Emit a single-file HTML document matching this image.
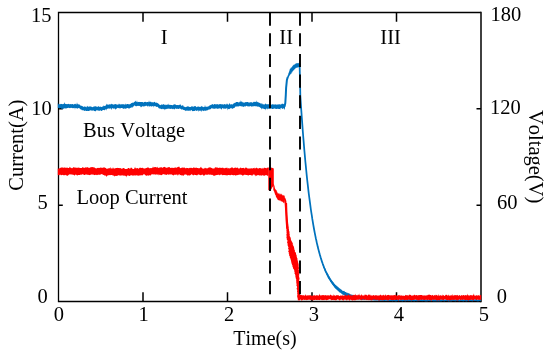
<!DOCTYPE html>
<html><head><meta charset="utf-8"><title>Current and Voltage</title>
<style>html,body{margin:0;padding:0;background:#fff;}body{width:550px;height:354px;overflow:hidden;}svg{display:block;}</style>
</head><body>
<svg width="550" height="354" viewBox="0 0 550 354">
<rect width="550" height="354" fill="#fff"/>
<g fill="none" stroke="#000" stroke-width="1.3">
<path d="M58.5 12.5 H481.0 M58.5 301.5 H481.0 M58.5 11.85 V302.15"/>
<path d="M481.0 11.85 V302.15" stroke-width="1.6" stroke="#111"/>
<path d="M143.00 301.5 V292.2 M143.00 12.5 V21.8 M227.50 301.5 V292.2 M227.50 12.5 V21.8 M312.00 301.5 V292.2 M312.00 12.5 V21.8 M396.50 301.5 V292.2 M396.50 12.5 V21.8 M58.5 205.17 H62.8 M481.0 205.17 H476.5 M58.5 108.83 H62.8 M481.0 108.83 H476.5" stroke-width="1.5"/>
</g>
<polygon fill="#0072BD" points="57.80,103.18 58.20,103.60 58.60,104.39 59.00,104.23 59.40,104.21 59.80,104.22 60.20,104.21 60.60,103.93 61.00,103.81 61.40,104.03 61.80,104.01 62.20,104.06 62.60,104.24 63.00,104.18 63.40,103.98 63.80,103.79 64.20,103.78 64.60,102.05 65.00,103.60 65.40,103.91 65.80,103.91 66.20,104.16 66.60,104.09 67.00,104.07 67.40,104.19 67.80,103.97 68.20,103.83 68.60,103.88 69.00,104.05 69.40,104.35 69.80,104.37 70.20,104.15 70.60,104.08 71.00,104.04 71.40,104.16 71.80,104.27 72.20,103.89 72.60,104.12 73.00,104.21 73.40,104.56 73.80,104.50 74.20,104.28 74.60,103.92 75.00,103.74 75.40,103.81 75.80,104.26 76.20,104.53 76.60,104.20 77.00,102.33 77.40,103.70 77.80,104.18 78.20,104.39 78.60,104.37 79.00,104.31 79.40,104.38 79.80,104.85 80.20,105.31 80.60,105.59 81.00,105.94 81.40,105.77 81.80,105.83 82.20,105.99 82.60,106.25 83.00,106.59 83.40,106.83 83.80,106.96 84.20,106.60 84.60,106.62 85.00,106.52 85.40,106.87 85.80,106.84 86.20,107.24 86.60,107.18 87.00,105.42 87.40,106.62 87.80,106.34 88.20,106.60 88.60,106.69 89.00,106.99 89.40,106.60 89.80,106.29 90.20,106.25 90.60,106.52 91.00,106.84 91.40,106.63 91.80,106.83 92.20,106.96 92.60,107.13 93.00,107.03 93.40,106.63 93.80,106.46 94.20,106.31 94.60,106.40 95.00,106.43 95.40,106.31 95.80,106.18 96.20,106.45 96.60,106.53 97.00,106.92 97.40,106.78 97.80,106.69 98.20,106.32 98.60,106.16 99.00,106.54 99.40,106.81 99.80,107.11 100.20,106.62 100.60,106.73 101.00,106.69 101.40,107.01 101.80,107.05 102.20,106.74 102.60,106.55 103.00,106.32 103.40,106.32 103.80,105.26 104.20,106.01 104.60,105.96 105.00,105.79 105.40,105.86 105.80,105.51 106.20,105.03 106.60,103.40 107.00,104.51 107.40,104.47 107.80,104.52 108.20,104.68 108.60,104.66 109.00,104.27 109.40,104.37 109.80,104.53 110.20,104.70 110.60,104.27 111.00,103.86 111.40,103.79 111.80,104.24 112.20,104.29 112.60,104.30 113.00,104.26 113.40,104.44 113.80,104.76 114.20,104.42 114.60,104.30 115.00,103.91 115.40,103.94 115.80,104.16 116.20,104.17 116.60,104.43 117.00,104.49 117.40,104.70 117.80,104.57 118.20,104.50 118.60,104.39 119.00,103.32 119.40,104.36 119.80,104.35 120.20,104.47 120.60,104.22 121.00,104.39 121.40,104.17 121.80,104.33 122.20,104.20 122.60,104.26 123.00,104.21 123.40,104.36 123.80,104.20 124.20,104.41 124.60,104.38 125.00,104.60 125.40,103.29 125.80,104.72 126.20,104.59 126.60,104.21 127.00,103.97 127.40,103.92 127.80,103.93 128.20,104.10 128.60,104.23 129.00,104.44 129.40,104.21 129.80,104.20 130.20,104.10 130.60,103.85 131.00,103.50 131.40,103.01 131.80,102.98 132.20,102.74 132.60,102.70 133.00,102.50 133.40,102.67 133.80,102.43 134.20,102.11 134.60,101.64 135.00,101.52 135.40,100.38 135.80,101.59 136.20,101.94 136.60,101.75 137.00,100.28 137.40,102.01 137.80,102.14 138.20,102.10 138.60,101.93 139.00,101.81 139.40,101.97 139.80,101.88 140.20,102.10 140.60,101.90 141.00,101.96 141.40,102.10 141.80,102.11 142.20,101.93 142.60,101.91 143.00,102.16 143.40,102.56 143.80,102.42 144.20,101.93 144.60,101.94 145.00,101.67 145.40,101.89 145.80,101.86 146.20,102.15 146.60,102.31 147.00,102.01 147.40,101.95 147.80,101.91 148.20,102.14 148.60,101.98 149.00,100.30 149.40,101.64 149.80,101.88 150.20,101.89 150.60,101.62 151.00,101.79 151.40,102.08 151.80,102.38 152.20,102.17 152.60,102.21 153.00,102.37 153.40,102.51 153.80,102.36 154.20,102.01 154.60,101.81 155.00,101.99 155.40,102.57 155.80,102.89 156.20,102.69 156.60,102.48 157.00,102.76 157.40,102.99 157.80,103.21 158.20,103.42 158.60,103.73 159.00,104.24 159.40,104.60 159.80,104.92 160.20,105.18 160.60,104.92 161.00,104.80 161.40,104.38 161.80,104.49 162.20,104.84 162.60,104.85 163.00,104.13 163.40,104.20 163.80,104.36 164.20,104.46 164.60,104.76 165.00,104.97 165.40,105.16 165.80,104.17 166.20,104.91 166.60,104.71 167.00,104.82 167.40,104.76 167.80,104.62 168.20,103.60 168.60,104.77 169.00,105.18 169.40,104.79 169.80,104.79 170.20,104.70 170.60,105.09 171.00,105.04 171.40,105.00 171.80,105.02 172.20,105.31 172.60,105.31 173.00,105.08 173.40,104.83 173.80,104.58 174.20,104.41 174.60,104.20 175.00,104.25 175.40,104.47 175.80,104.68 176.20,104.88 176.60,104.92 177.00,105.16 177.40,104.96 177.80,105.04 178.20,105.05 178.60,105.21 179.00,104.98 179.40,104.77 179.80,104.82 180.20,104.92 180.60,103.65 181.00,105.53 181.40,105.70 181.80,105.66 182.20,105.38 182.60,105.61 183.00,104.78 183.40,106.20 183.80,106.54 184.20,106.77 184.60,106.81 185.00,106.94 185.40,107.18 185.80,107.10 186.20,106.96 186.60,106.74 187.00,106.49 187.40,105.91 187.80,106.66 188.20,106.82 188.60,105.95 189.00,106.90 189.40,107.03 189.80,106.84 190.20,107.01 190.60,106.89 191.00,106.77 191.40,106.41 191.80,106.21 192.20,106.35 192.60,106.39 193.00,106.65 193.40,106.72 193.80,106.61 194.20,106.45 194.60,106.09 195.00,106.12 195.40,106.03 195.80,106.45 196.20,106.85 196.60,107.21 197.00,107.07 197.40,106.73 197.80,106.61 198.20,106.56 198.60,106.52 199.00,106.71 199.40,106.63 199.80,106.99 200.20,106.90 200.60,106.87 201.00,106.55 201.40,106.47 201.80,105.77 202.20,106.62 202.60,106.68 203.00,106.82 203.40,107.11 203.80,107.24 204.20,106.84 204.60,106.91 205.00,104.67 205.40,106.73 205.80,106.63 206.20,106.83 206.60,106.78 207.00,106.75 207.40,106.81 207.80,106.60 208.20,106.60 208.60,106.36 209.00,105.92 209.40,105.62 209.80,105.42 210.20,105.36 210.60,104.88 211.00,104.69 211.40,104.67 211.80,104.58 212.20,104.24 212.60,104.12 213.00,104.39 213.40,104.70 213.80,104.62 214.20,104.36 214.60,104.00 215.00,103.99 215.40,104.13 215.80,104.51 216.20,104.46 216.60,104.32 217.00,104.10 217.40,104.20 217.80,104.36 218.20,104.48 218.60,104.53 219.00,104.48 219.40,104.30 219.80,104.11 220.20,103.93 220.60,104.09 221.00,104.38 221.40,104.34 221.80,104.33 222.20,104.12 222.60,104.54 223.00,104.51 223.40,104.65 223.80,104.29 224.20,104.08 224.60,104.26 225.00,104.36 225.40,104.48 225.80,104.48 226.20,104.37 226.60,104.41 227.00,102.95 227.40,104.33 227.80,104.34 228.20,104.67 228.60,104.44 229.00,104.39 229.40,103.15 229.80,103.17 230.20,104.51 230.60,104.58 231.00,104.30 231.40,104.32 231.80,104.27 232.20,104.49 232.60,104.41 233.00,103.99 233.40,103.78 233.80,103.28 234.20,103.28 234.60,102.76 235.00,102.93 235.40,102.57 235.80,102.49 236.20,102.10 236.60,102.04 237.00,101.88 237.40,101.94 237.80,101.98 238.20,102.23 238.60,102.44 239.00,102.42 239.40,102.30 239.80,101.85 240.20,100.30 240.60,101.88 241.00,101.84 241.40,101.52 241.80,101.45 242.20,101.87 242.60,102.24 243.00,102.61 243.40,102.51 243.80,102.53 244.20,102.57 244.60,102.74 245.00,102.33 245.40,102.23 245.80,101.92 246.20,102.16 246.60,101.97 247.00,101.88 247.40,101.91 247.80,102.02 248.20,102.37 248.60,102.42 249.00,102.58 249.40,102.48 249.80,102.46 250.20,102.28 250.60,102.27 251.00,102.26 251.40,102.14 251.80,102.30 252.20,102.46 252.60,102.85 253.00,102.42 253.40,102.10 253.80,101.76 254.20,101.72 254.60,101.93 255.00,101.83 255.40,101.67 255.80,102.04 256.20,102.16 256.60,100.21 257.00,102.02 257.40,102.30 257.80,101.52 258.20,103.03 258.60,101.77 259.00,102.71 259.40,102.75 259.80,103.03 260.20,103.21 260.60,103.52 261.00,103.61 261.40,103.11 261.80,104.29 262.20,104.61 262.60,103.22 263.00,104.27 263.40,104.20 263.80,104.48 264.20,104.51 264.60,104.38 265.00,104.06 265.40,103.25 265.80,104.10 266.20,104.03 266.60,104.45 267.00,104.26 267.40,104.44 267.80,104.07 268.20,104.36 268.60,104.27 269.00,104.28 269.40,104.09 269.80,104.09 270.20,104.03 270.60,104.34 271.00,104.60 271.40,104.81 271.80,104.38 272.20,104.08 272.60,104.20 273.00,104.63 273.40,103.99 273.80,104.66 274.20,104.48 274.60,104.40 275.00,104.50 275.40,104.29 275.80,104.46 276.20,104.54 276.60,104.81 277.00,104.49 277.40,104.46 277.80,104.49 278.20,104.50 278.60,104.40 279.00,104.12 279.40,104.56 279.80,104.29 280.20,104.60 280.60,104.53 281.00,104.60 281.40,104.22 281.80,103.83 282.20,103.82 282.60,103.86 283.00,103.85 283.40,103.95 283.80,104.34 284.20,104.41 284.60,104.49 285.00,104.40 285.00,110.36 284.60,109.37 284.20,108.47 283.80,108.17 283.40,108.45 283.00,108.62 282.60,108.99 282.20,108.74 281.80,108.53 281.40,108.02 281.00,107.87 280.60,108.28 280.20,109.69 279.80,108.97 279.40,109.06 279.00,109.01 278.60,108.91 278.20,108.81 277.80,108.64 277.40,108.74 277.00,108.80 276.60,108.91 276.20,108.98 275.80,108.90 275.40,108.64 275.00,108.60 274.60,108.50 274.20,108.61 273.80,108.73 273.40,108.70 273.00,109.05 272.60,108.93 272.20,108.99 271.80,108.71 271.40,108.44 271.00,108.45 270.60,108.49 270.20,108.50 269.80,108.67 269.40,108.60 269.00,109.00 268.60,108.59 268.20,108.79 267.80,108.53 267.40,109.76 267.00,108.42 266.60,108.49 266.20,108.66 265.80,110.48 265.40,109.06 265.00,109.08 264.60,109.02 264.20,109.13 263.80,108.83 263.40,108.69 263.00,108.59 262.60,108.60 262.20,108.38 261.80,108.30 261.40,109.63 261.00,108.01 260.60,107.92 260.20,107.62 259.80,107.37 259.40,106.92 259.00,106.76 258.60,106.70 258.20,106.53 257.80,106.67 257.40,106.40 257.00,106.56 256.60,106.28 256.20,106.37 255.80,106.30 255.40,106.19 255.00,106.23 254.60,106.07 254.20,106.30 253.80,106.16 253.40,106.19 253.00,106.39 252.60,106.51 252.20,106.21 251.80,106.19 251.40,106.89 251.00,106.33 250.60,106.04 250.20,106.37 249.80,106.14 249.40,106.42 249.00,106.59 248.60,106.46 248.20,106.26 247.80,106.38 247.40,106.13 247.00,106.10 246.60,105.82 246.20,106.00 245.80,106.27 245.40,106.45 245.00,106.49 244.60,106.25 244.20,106.43 243.80,106.71 243.40,106.95 243.00,106.57 242.60,106.39 242.20,106.38 241.80,106.23 241.40,106.42 241.00,106.20 240.60,106.24 240.20,105.88 239.80,105.79 239.40,106.17 239.00,106.25 238.60,106.11 238.20,107.04 237.80,106.25 237.40,106.43 237.00,106.62 236.60,106.43 236.20,106.56 235.80,106.44 235.40,106.62 235.00,107.13 234.60,107.65 234.20,107.95 233.80,108.12 233.40,108.17 233.00,108.60 232.60,108.82 232.20,108.80 231.80,108.61 231.40,108.17 231.00,108.07 230.60,108.35 230.20,108.57 229.80,108.83 229.40,109.32 229.00,108.82 228.60,109.00 228.20,108.99 227.80,110.60 227.40,108.62 227.00,108.26 226.60,108.15 226.20,108.55 225.80,108.85 225.40,108.74 225.00,108.45 224.60,108.62 224.20,108.63 223.80,109.31 223.40,108.37 223.00,108.29 222.60,107.99 222.20,108.20 221.80,109.93 221.40,109.00 221.00,108.75 220.60,108.70 220.20,108.28 219.80,108.50 219.40,108.30 219.00,108.61 218.60,108.59 218.20,108.63 217.80,108.59 217.40,108.88 217.00,108.70 216.60,108.55 216.20,108.17 215.80,108.59 215.40,108.47 215.00,108.71 214.60,108.54 214.20,108.92 213.80,108.63 213.40,108.75 213.00,108.16 212.60,108.49 212.20,108.50 211.80,108.33 211.40,108.27 211.00,108.81 210.60,109.30 210.20,109.34 209.80,109.36 209.40,109.41 209.00,109.66 208.60,109.57 208.20,109.77 207.80,110.13 207.40,110.35 207.00,110.51 206.60,110.33 206.20,110.66 205.80,110.68 205.40,110.78 205.00,110.70 204.60,110.46 204.20,110.77 203.80,110.77 203.40,111.17 203.00,110.69 202.60,110.59 202.20,110.47 201.80,110.60 201.40,112.24 201.00,110.54 200.60,110.57 200.20,111.29 199.80,110.79 199.40,110.66 199.00,110.43 198.60,110.45 198.20,112.02 197.80,110.35 197.40,110.47 197.00,110.76 196.60,110.90 196.20,110.84 195.80,110.50 195.40,110.37 195.00,110.65 194.60,111.04 194.20,110.97 193.80,110.97 193.40,110.98 193.00,111.13 192.60,111.01 192.20,111.34 191.80,110.41 191.40,110.09 191.00,110.05 190.60,110.39 190.20,111.26 189.80,110.76 189.40,110.56 189.00,110.83 188.60,110.75 188.20,110.80 187.80,110.51 187.40,110.73 187.00,110.65 186.60,110.66 186.20,110.55 185.80,110.59 185.40,111.33 185.00,110.51 184.60,110.20 184.20,109.90 183.80,110.03 183.40,109.90 183.00,109.51 182.60,109.37 182.20,109.56 181.80,109.73 181.40,109.32 181.00,109.21 180.60,108.74 180.20,108.71 179.80,108.45 179.40,108.54 179.00,108.82 178.60,108.97 178.20,108.92 177.80,108.65 177.40,108.75 177.00,108.83 176.60,108.98 176.20,108.73 175.80,108.61 175.40,108.44 175.00,108.68 174.60,109.19 174.20,109.43 173.80,109.21 173.40,108.80 173.00,108.84 172.60,109.03 172.20,109.21 171.80,108.87 171.40,108.72 171.00,108.59 170.60,109.03 170.20,108.94 169.80,108.87 169.40,108.68 169.00,108.80 168.60,108.80 168.20,108.50 167.80,108.75 167.40,108.69 167.00,109.06 166.60,108.86 166.20,109.23 165.80,108.89 165.40,109.05 165.00,110.56 164.60,109.24 164.20,109.18 163.80,109.36 163.40,108.98 163.00,108.84 162.60,108.83 162.20,109.19 161.80,109.25 161.40,109.08 161.00,108.97 160.60,108.81 160.20,108.62 159.80,108.49 159.40,108.49 159.00,108.40 158.60,107.97 158.20,107.38 157.80,107.00 157.40,106.79 157.00,106.76 156.60,106.97 156.20,106.84 155.80,106.41 155.40,106.14 155.00,106.11 154.60,106.18 154.20,106.13 153.80,105.80 153.40,107.80 153.00,105.85 152.60,106.23 152.20,106.19 151.80,106.15 151.40,106.89 151.00,105.93 150.60,106.37 150.20,106.21 149.80,106.38 149.40,105.94 149.00,107.42 148.60,105.61 148.20,106.04 147.80,106.01 147.40,107.06 147.00,105.69 146.60,105.71 146.20,105.75 145.80,105.74 145.40,106.14 145.00,105.91 144.60,106.39 144.20,106.36 143.80,106.56 143.40,106.58 143.00,106.22 142.60,106.27 142.20,106.14 141.80,107.07 141.40,106.44 141.00,107.73 140.60,105.68 140.20,107.26 139.80,105.64 139.40,106.01 139.00,105.88 138.60,105.92 138.20,105.71 137.80,105.79 137.40,106.02 137.00,106.10 136.60,106.19 136.20,106.21 135.80,106.28 135.40,106.06 135.00,105.81 134.60,105.52 134.20,105.60 133.80,105.97 133.40,106.67 133.00,106.84 132.60,107.07 132.20,107.97 131.80,107.24 131.40,107.40 131.00,107.67 130.60,107.78 130.20,108.09 129.80,108.33 129.40,108.60 129.00,108.40 128.60,108.80 128.20,107.93 127.80,108.09 127.40,108.11 127.00,108.18 126.60,108.31 126.20,108.59 125.80,108.92 125.40,108.62 125.00,108.47 124.60,108.42 124.20,108.53 123.80,108.84 123.40,108.64 123.00,108.64 122.60,108.22 122.20,108.02 121.80,107.98 121.40,108.04 121.00,108.05 120.60,108.23 120.20,108.41 119.80,108.48 119.40,108.31 119.00,108.12 118.60,108.14 118.20,107.96 117.80,107.86 117.40,108.03 117.00,108.18 116.60,108.71 116.20,108.76 115.80,108.88 115.40,110.00 115.00,108.52 114.60,108.58 114.20,108.53 113.80,109.13 113.40,108.13 113.00,108.26 112.60,108.20 112.20,108.37 111.80,108.41 111.40,110.16 111.00,108.64 110.60,108.29 110.20,108.45 109.80,108.39 109.40,108.74 109.00,108.59 108.60,108.42 108.20,108.41 107.80,108.57 107.40,108.98 107.00,108.79 106.60,110.64 106.20,108.88 105.80,109.33 105.40,109.62 105.00,110.07 104.60,110.19 104.20,110.16 103.80,110.08 103.40,110.05 103.00,109.97 102.60,110.13 102.20,110.45 101.80,110.89 101.40,110.89 101.00,110.68 100.60,110.32 100.20,110.58 99.80,110.75 99.40,110.76 99.00,110.70 98.60,110.51 98.20,110.74 97.80,110.45 97.40,110.49 97.00,110.09 96.60,110.30 96.20,110.66 95.80,111.19 95.40,111.26 95.00,111.30 94.60,110.99 94.20,110.97 93.80,110.55 93.40,110.53 93.00,110.45 92.60,110.54 92.20,110.78 91.80,110.71 91.40,110.62 91.00,110.32 90.60,110.39 90.20,110.35 89.80,110.52 89.40,110.74 89.00,111.12 88.60,111.06 88.20,110.97 87.80,110.87 87.40,111.01 87.00,111.09 86.60,111.04 86.20,110.90 85.80,110.54 85.40,110.71 85.00,110.79 84.60,110.94 84.20,110.63 83.80,110.49 83.40,110.35 83.00,110.22 82.60,110.23 82.20,110.15 81.80,110.18 81.40,109.61 81.00,109.60 80.60,109.23 80.20,109.27 79.80,108.81 79.40,108.31 79.00,108.04 78.60,108.12 78.20,108.32 77.80,108.47 77.40,108.43 77.00,108.67 76.60,108.30 76.20,107.88 75.80,107.90 75.40,108.05 75.00,109.72 74.60,107.83 74.20,108.01 73.80,108.15 73.40,107.98 73.00,108.14 72.60,107.98 72.20,108.18 71.80,107.81 71.40,108.11 71.00,107.84 70.60,108.22 70.20,107.86 69.80,108.30 69.40,107.90 69.00,107.98 68.60,107.64 68.20,107.76 67.80,108.12 67.40,108.04 67.00,108.15 66.60,108.15 66.20,108.60 65.80,108.69 65.40,108.23 65.00,108.17 64.60,108.27 64.20,108.56 63.80,108.70 63.40,108.40 63.00,109.60 62.60,108.46 62.20,108.76 61.80,108.49 61.40,109.40 61.00,108.03 60.60,107.97 60.20,108.32 59.80,108.39 59.40,108.31 59.00,108.30 58.60,107.86 58.20,107.97 57.80,107.90"/>
<polygon fill="#0072BD" points="287.30,77.45 287.55,76.46 287.80,75.11 288.05,75.01 288.30,74.08 288.55,72.75 288.80,72.78 289.05,71.85 289.30,71.23 289.55,70.29 289.80,69.30 290.05,68.49 290.30,68.85 290.55,68.78 290.80,67.85 291.05,67.43 291.30,67.96 291.55,67.14 291.80,66.89 292.05,66.65 292.30,66.31 292.55,66.34 292.80,65.52 293.05,65.86 293.30,65.01 293.55,64.80 293.80,64.71 294.05,64.91 294.30,64.21 294.55,64.67 294.80,64.22 295.05,64.01 295.30,64.13 295.55,63.17 295.80,63.70 296.05,63.26 296.30,63.60 296.55,63.40 296.80,62.89 297.05,63.01 297.30,63.27 297.55,63.00 297.80,63.41 298.05,62.95 298.30,62.72 298.55,63.49 298.80,63.21 299.05,63.22 299.30,63.35 299.55,62.58 299.55,67.22 299.30,67.37 299.05,67.54 298.80,67.55 298.55,67.12 298.30,67.32 298.05,67.05 297.80,67.45 297.55,67.99 297.30,67.32 297.05,67.42 296.80,67.95 296.55,67.72 296.30,67.50 296.05,67.97 295.80,67.80 295.55,68.48 295.30,68.43 295.05,68.98 294.80,69.13 294.55,69.23 294.30,69.28 294.05,70.29 293.80,69.97 293.55,70.30 293.30,70.77 293.05,71.10 292.80,70.91 292.55,71.42 292.30,72.18 292.05,72.42 291.80,72.22 291.55,73.05 291.30,73.65 291.05,74.03 290.80,73.66 290.55,74.27 290.30,74.59 290.05,74.90 289.80,75.59 289.55,75.51 289.30,75.85 289.05,76.78 288.80,77.04 288.55,77.30 288.30,77.61 288.05,78.43 287.80,78.37 287.55,78.96 287.30,79.86"/>
<polygon fill="#0072BD" points="318.00,246.83 318.40,248.43 318.80,249.92 319.20,251.10 319.60,253.01 320.00,253.91 320.40,255.63 320.80,256.48 321.20,257.73 321.60,259.38 322.00,260.48 322.40,261.29 322.80,262.39 323.20,264.09 323.60,264.79 324.00,266.11 324.40,266.47 324.80,267.87 325.20,268.72 325.60,269.61 326.00,270.13 326.40,271.27 326.80,271.97 327.20,272.39 327.60,273.48 328.00,273.82 328.40,274.56 328.80,275.64 329.20,276.50 329.60,276.61 330.00,277.56 330.40,278.35 330.80,279.19 331.20,279.46 331.60,280.38 332.00,280.46 332.40,281.18 332.80,281.78 333.20,282.35 333.60,282.41 334.00,282.77 334.40,283.94 334.80,283.97 335.20,284.76 335.60,285.22 336.00,284.86 336.40,285.79 336.80,286.00 337.20,286.07 337.60,286.64 338.00,287.22 338.40,287.28 338.80,287.54 339.20,287.97 339.60,288.48 340.00,288.48 340.40,289.08 340.80,289.37 341.20,289.70 341.60,289.41 342.00,290.35 342.40,290.65 342.80,290.69 343.20,291.06 343.60,291.09 344.00,290.85 344.40,291.05 344.80,291.83 345.20,291.99 345.60,292.12 346.00,291.89 346.40,292.64 346.80,292.44 347.20,292.73 347.60,292.73 348.00,293.39 348.40,293.05 348.80,293.16 349.20,293.81 349.60,293.54 350.00,293.86 350.40,294.42 350.80,294.40 351.20,294.70 351.60,294.32 352.00,295.00 352.40,294.61 352.80,295.23 353.20,294.86 353.60,295.07 354.00,295.23 354.40,295.72 354.80,295.48 355.20,295.67 355.60,296.00 356.00,295.59 356.40,295.72 356.80,296.07 357.20,295.96 357.60,296.52 358.00,296.74 358.40,296.71 358.80,296.63 359.20,296.46 359.60,296.60 360.00,297.17 360.40,296.80 360.80,296.84 361.20,297.17 361.60,297.32 362.00,297.43 362.40,297.73 362.80,297.76 363.20,297.64 363.60,297.72 364.00,297.78 364.40,297.92 364.80,297.67 364.80,299.53 364.40,299.89 364.00,299.64 363.60,299.67 363.20,299.50 362.80,300.07 362.40,299.91 362.00,299.80 361.60,299.67 361.20,299.23 360.80,299.65 360.40,299.69 360.00,299.13 359.60,299.67 359.20,299.01 358.80,299.50 358.40,299.12 358.00,299.52 357.60,299.05 357.20,299.41 356.80,299.32 356.40,299.22 356.00,298.81 355.60,299.13 355.20,298.49 354.80,298.60 354.40,298.76 354.00,298.40 353.60,298.76 353.20,298.54 352.80,298.55 352.40,298.16 352.00,297.74 351.60,298.23 351.20,297.92 350.80,297.60 350.40,297.86 350.00,297.50 349.60,297.33 349.20,297.32 348.80,297.08 348.40,297.24 348.00,296.90 347.60,297.07 347.20,296.65 346.80,296.44 346.40,296.14 346.00,296.00 345.60,296.13 345.20,296.16 344.80,295.44 344.40,295.61 344.00,295.55 343.60,295.06 343.20,294.74 342.80,294.72 342.40,294.40 342.00,294.00 341.60,293.40 341.20,293.68 340.80,292.77 340.40,292.84 340.00,292.85 339.60,292.46 339.20,292.04 338.80,291.75 338.40,291.37 338.00,290.84 337.60,290.36 337.20,290.41 336.80,290.01 336.40,289.13 336.00,289.15 335.60,288.52 335.20,288.45 334.80,288.12 334.40,287.42 334.00,286.57 333.60,286.51 333.20,285.80 332.80,285.17 332.40,284.82 332.00,284.07 331.60,283.36 331.20,283.16 330.80,282.28 330.40,281.99 330.00,281.22 329.60,280.22 329.20,279.58 328.80,279.24 328.40,278.51 328.00,278.13 327.60,276.94 327.20,276.07 326.80,274.88 326.40,274.41 326.00,273.45 325.60,272.29 325.20,271.72 324.80,270.94 324.40,269.55 324.00,268.27 323.60,267.77 323.20,266.58 322.80,265.28 322.40,263.85 322.00,263.24 321.60,261.71 321.20,260.70 320.80,258.97 320.40,257.53 320.00,256.16 319.60,254.96 319.20,253.70 318.80,251.73 318.40,250.13 318.00,248.44"/>
<polyline fill="none" stroke="#0072BD" stroke-width="2.0" stroke-linejoin="round" stroke-linecap="round" points="284.60,106.30 285.30,103.00 285.80,95.00 286.10,88.00 286.90,80.00 287.60,77.50"/>
<polyline fill="none" stroke="#0072BD" stroke-width="1.75" stroke-linejoin="round" stroke-linecap="round" points="299.60,64.20 300.00,80.00 300.30,95.00 300.30,95.54 300.80,103.00 301.30,110.65 301.80,117.67 302.30,124.42 302.80,131.26 303.30,137.48 303.80,143.51 304.30,149.73 304.80,155.13 305.30,160.97 305.80,165.87 306.30,171.00 306.80,176.11 307.30,180.82 307.80,185.12 308.30,189.57 308.80,193.91 309.30,197.61 309.80,201.47 310.30,205.11 310.80,208.99 311.30,212.44 311.80,215.47 312.30,218.96 312.80,221.82 313.30,224.89 313.80,227.76 314.30,230.51 314.80,233.13 315.30,235.59 315.80,238.18 316.30,240.28 316.80,242.87 317.30,244.80 317.80,247.09 318.30,249.02 318.80,250.88 319.30,252.75 319.80,254.57 320.30,256.24 320.80,257.98 321.30,259.53 321.80,261.25 322.30,262.44 322.80,264.11 323.30,265.31 323.80,266.85 324.30,268.11 324.80,268.95 325.30,270.55 325.80,271.62 326.30,272.63 326.80,273.45 327.30,274.78 327.80,275.63 328.30,276.38 328.80,277.48 329.30,278.08 329.80,279.20 330.30,279.75 330.80,280.58 331.30,281.18 331.80,282.06 332.30,282.87 332.80,283.55 333.30,284.07 333.80,284.61 334.30,285.10 334.80,285.80 335.30,286.56 335.80,287.16 336.30,287.65 336.80,287.72 337.30,288.21 337.80,288.78 338.30,289.31 338.80,289.47 339.30,289.89 339.80,290.64 340.30,291.10 340.80,291.17 341.30,291.70 341.80,291.98 342.30,292.33 342.80,292.46 343.30,293.01 343.80,292.89 344.30,293.24 344.80,293.68 345.30,293.74 345.80,294.28 346.30,294.50 346.80,294.71 347.30,294.97 347.80,295.06 348.30,295.03 348.80,295.30 349.30,295.32 349.80,295.70 350.30,295.99 350.80,296.18 351.30,296.35 351.80,296.28 352.30,296.76 352.80,296.71 353.30,296.68 353.80,297.17 354.30,297.17 354.80,297.29 355.30,297.37 355.80,297.18 356.30,297.57 356.80,297.75 357.30,297.83 357.80,297.70 358.30,297.92 358.80,298.13 359.30,298.31 359.80,298.06 360.30,298.31 361.30,298.21"/>
<polyline fill="none" stroke="#0072BD" stroke-width="1.6" stroke-linejoin="round" stroke-linecap="round" points="355.30,297.37 355.80,297.18 356.30,297.57 356.80,297.75 357.30,297.83 357.80,297.70 358.30,297.92 358.80,298.13 359.30,298.31 359.80,298.06 360.30,298.31 361.30,298.21 362.30,298.40 363.30,298.63 364.30,298.57 365.30,298.85 366.30,299.21 367.30,299.02 368.30,299.03 369.30,299.09 370.30,299.39 371.30,299.38 372.30,299.56 373.30,299.50 374.30,299.62 375.30,299.61 376.30,299.60 377.30,299.51 378.30,299.68 379.30,299.95 380.30,299.79 381.30,300.03 382.30,299.70 383.30,300.06 384.30,300.14 385.30,299.88 386.30,299.97 387.30,299.93 388.30,300.03 389.30,300.29 390.30,300.20 391.30,299.92 392.30,300.38 393.30,300.23 394.30,300.31 395.30,300.33 396.30,300.38 397.30,300.32 398.30,300.08 399.30,300.32 400.30,300.29 401.30,300.17 402.30,300.40 403.30,299.98 404.30,300.23 405.30,300.43 406.30,300.26 407.30,300.19 408.30,300.05 409.30,300.10 410.30,300.14 411.30,300.51 412.30,300.29 413.30,300.17 414.30,300.46 415.30,300.33 416.30,300.17 417.30,300.35 418.30,300.04 419.30,300.29 420.30,300.29 421.30,300.07 422.30,300.36 423.30,300.05 424.30,300.13 425.30,300.41 426.30,300.24 427.30,300.40 428.30,300.31 429.30,300.27 430.30,300.34 431.30,300.05 432.30,300.04 433.30,300.51 434.30,300.39 435.30,300.14 436.30,300.39 437.30,300.51 438.30,300.46 439.30,300.37 440.30,300.31 441.30,300.36 442.30,300.14 443.30,300.27 444.30,300.48 445.30,300.23 446.30,300.18 447.30,300.31 448.30,300.45 449.30,300.49 450.30,300.55 451.30,300.53 452.30,300.10 453.30,300.28 454.30,300.32 455.30,300.39 456.30,300.10 457.30,300.23 458.30,300.24 459.30,300.35 460.30,300.23 461.30,300.21 462.30,300.14 463.30,300.38 464.30,300.20 465.30,300.15 466.30,300.51 467.30,300.24 468.30,300.19 469.30,300.09 470.30,300.31 471.30,300.22 472.30,300.34 473.30,300.21 474.30,300.28 475.30,300.11 476.30,300.08 477.30,300.52 478.30,300.42 479.30,300.26 480.30,300.15"/>
<polygon fill="#FF0000" points="57.80,168.39 58.20,168.97 58.60,168.57 59.00,167.97 59.40,168.62 59.80,168.20 60.20,168.08 60.60,167.78 61.00,167.55 61.40,167.51 61.80,167.52 62.20,167.61 62.60,167.46 63.00,167.59 63.40,167.78 63.80,167.64 64.20,167.53 64.60,167.50 65.00,167.39 65.40,167.62 65.80,167.91 66.20,167.77 66.60,167.84 67.00,167.55 67.40,167.60 67.80,168.05 68.20,167.95 68.60,168.09 69.00,167.97 69.40,166.40 69.80,167.63 70.20,167.61 70.60,167.52 71.00,167.65 71.40,168.07 71.80,168.23 72.20,168.36 72.60,168.10 73.00,167.62 73.40,167.33 73.80,167.33 74.20,167.55 74.60,167.77 75.00,166.97 75.40,167.73 75.80,167.73 76.20,167.79 76.60,167.82 77.00,167.72 77.40,167.87 77.80,167.73 78.20,167.65 78.60,167.51 79.00,167.48 79.40,167.71 79.80,167.91 80.20,168.01 80.60,167.97 81.00,167.95 81.40,168.00 81.80,167.99 82.20,167.45 82.60,167.19 83.00,167.11 83.40,167.38 83.80,167.92 84.20,167.88 84.60,167.87 85.00,167.50 85.40,167.45 85.80,167.34 86.20,167.38 86.60,167.45 87.00,167.14 87.40,167.35 87.80,167.20 88.20,167.42 88.60,167.78 89.00,167.91 89.40,167.93 89.80,167.62 90.20,167.44 90.60,167.27 91.00,167.28 91.40,167.26 91.80,166.94 92.20,167.12 92.60,167.15 93.00,167.09 93.40,167.49 93.80,167.19 94.20,167.43 94.60,167.58 95.00,167.68 95.40,168.14 95.80,168.30 96.20,168.32 96.60,168.39 97.00,168.23 97.40,167.87 97.80,168.09 98.20,168.00 98.60,167.73 99.00,168.05 99.40,167.88 99.80,167.74 100.20,167.78 100.60,167.54 101.00,167.61 101.40,167.74 101.80,167.79 102.20,167.98 102.60,167.80 103.00,167.55 103.40,167.73 103.80,167.34 104.20,167.45 104.60,167.51 105.00,167.43 105.40,167.92 105.80,168.05 106.20,168.40 106.60,168.74 107.00,168.83 107.40,168.76 107.80,168.58 108.20,168.57 108.60,168.37 109.00,168.16 109.40,168.33 109.80,168.37 110.20,166.85 110.60,168.54 111.00,168.20 111.40,168.22 111.80,168.72 112.20,168.50 112.60,168.46 113.00,167.03 113.40,168.17 113.80,168.45 114.20,168.41 114.60,168.45 115.00,168.41 115.40,167.96 115.80,168.33 116.20,168.00 116.60,168.05 117.00,168.11 117.40,167.74 117.80,167.88 118.20,167.91 118.60,167.97 119.00,168.07 119.40,168.17 119.80,167.91 120.20,168.07 120.60,168.35 121.00,168.32 121.40,168.65 121.80,168.66 122.20,168.61 122.60,168.59 123.00,168.27 123.40,167.99 123.80,168.05 124.20,168.15 124.60,168.50 125.00,168.95 125.40,168.98 125.80,168.89 126.20,168.88 126.60,168.97 127.00,168.81 127.40,168.83 127.80,168.53 128.20,168.10 128.60,168.04 129.00,168.02 129.40,168.51 129.80,168.64 130.20,168.47 130.60,168.20 131.00,167.28 131.40,167.64 131.80,167.96 132.20,168.39 132.60,168.78 133.00,168.96 133.40,169.08 133.80,168.99 134.20,168.54 134.60,168.32 135.00,166.59 135.40,168.03 135.80,168.28 136.20,168.41 136.60,168.26 137.00,167.95 137.40,168.05 137.80,168.17 138.20,168.62 138.60,168.70 139.00,168.50 139.40,167.53 139.80,167.90 140.20,167.74 140.60,167.77 141.00,167.75 141.40,167.90 141.80,167.91 142.20,167.79 142.60,167.82 143.00,167.95 143.40,168.19 143.80,168.52 144.20,168.50 144.60,168.57 145.00,168.52 145.40,168.31 145.80,168.25 146.20,167.96 146.60,167.95 147.00,167.80 147.40,167.49 147.80,167.61 148.20,167.28 148.60,167.63 149.00,167.97 149.40,168.19 149.80,168.35 150.20,168.16 150.60,168.02 151.00,167.91 151.40,168.16 151.80,167.92 152.20,167.65 152.60,167.65 153.00,166.22 153.40,167.45 153.80,167.54 154.20,167.29 154.60,167.26 155.00,166.87 155.40,167.14 155.80,166.99 156.20,167.31 156.60,167.42 157.00,167.50 157.40,166.53 157.80,167.77 158.20,168.11 158.60,167.74 159.00,167.84 159.40,167.89 159.80,166.99 160.20,167.69 160.60,167.15 161.00,167.05 161.40,167.27 161.80,167.60 162.20,167.81 162.60,168.04 163.00,167.02 163.40,167.32 163.80,167.26 164.20,166.79 164.60,167.02 165.00,166.96 165.40,167.26 165.80,167.68 166.20,167.63 166.60,167.68 167.00,167.79 167.40,167.45 167.80,167.54 168.20,167.56 168.60,167.08 169.00,167.06 169.40,166.96 169.80,167.39 170.20,167.71 170.60,168.02 171.00,167.98 171.40,167.85 171.80,167.75 172.20,167.75 172.60,167.77 173.00,167.88 173.40,167.94 173.80,167.65 174.20,167.84 174.60,167.66 175.00,167.44 175.40,167.55 175.80,167.45 176.20,167.69 176.60,167.64 177.00,167.51 177.40,167.33 177.80,166.94 178.20,166.93 178.60,166.96 179.00,165.95 179.40,167.36 179.80,167.61 180.20,168.04 180.60,168.21 181.00,168.04 181.40,167.88 181.80,167.57 182.20,167.35 182.60,167.66 183.00,167.87 183.40,167.72 183.80,167.51 184.20,167.43 184.60,167.44 185.00,167.88 185.40,168.23 185.80,168.15 186.20,168.20 186.60,167.79 187.00,167.96 187.40,167.97 187.80,168.09 188.20,168.41 188.60,168.02 189.00,168.22 189.40,167.93 189.80,167.81 190.20,167.92 190.60,167.70 191.00,167.68 191.40,167.86 191.80,168.04 192.20,167.88 192.60,168.14 193.00,167.82 193.40,167.46 193.80,167.59 194.20,167.53 194.60,167.76 195.00,167.98 195.40,167.91 195.80,167.54 196.20,167.54 196.60,167.72 197.00,167.95 197.40,167.95 197.80,168.08 198.20,168.05 198.60,168.22 199.00,168.41 199.40,168.27 199.80,167.94 200.20,167.60 200.60,167.58 201.00,166.54 201.40,167.67 201.80,167.87 202.20,168.24 202.60,168.41 203.00,168.67 203.40,168.72 203.80,168.52 204.20,168.45 204.60,168.24 205.00,167.53 205.40,168.03 205.80,168.15 206.20,168.17 206.60,168.17 207.00,168.57 207.40,168.32 207.80,168.27 208.20,168.08 208.60,167.62 209.00,167.55 209.40,167.49 209.80,167.26 210.20,167.46 210.60,167.46 211.00,167.52 211.40,167.91 211.80,167.94 212.20,168.36 212.60,168.41 213.00,168.43 213.40,168.46 213.80,168.50 214.20,168.47 214.60,168.28 215.00,167.16 215.40,167.45 215.80,167.32 216.20,167.39 216.60,167.53 217.00,167.57 217.40,167.56 217.80,167.71 218.20,167.79 218.60,168.04 219.00,167.91 219.40,167.64 219.80,167.43 220.20,167.69 220.60,167.82 221.00,168.08 221.40,167.66 221.80,167.91 222.20,167.74 222.60,167.74 223.00,167.52 223.40,167.93 223.80,168.32 224.20,168.33 224.60,168.26 225.00,168.28 225.40,167.99 225.80,167.82 226.20,167.97 226.60,167.98 227.00,166.91 227.40,168.16 227.80,168.41 228.20,168.09 228.60,168.31 229.00,168.58 229.40,168.37 229.80,168.60 230.20,168.15 230.60,167.88 231.00,167.75 231.40,167.41 231.80,167.50 232.20,167.26 232.60,167.63 233.00,167.80 233.40,168.13 233.80,168.28 234.20,167.96 234.60,167.77 235.00,167.54 235.40,167.41 235.80,167.67 236.20,167.98 236.60,167.86 237.00,167.87 237.40,167.19 237.80,167.96 238.20,168.12 238.60,168.63 239.00,168.62 239.40,168.44 239.80,168.16 240.20,167.39 240.60,167.77 241.00,167.68 241.40,167.99 241.80,168.24 242.20,167.93 242.60,168.09 243.00,167.94 243.40,167.79 243.80,168.09 244.20,168.36 244.60,168.41 245.00,168.45 245.40,167.36 245.80,167.80 246.20,167.67 246.60,167.83 247.00,167.87 247.40,168.37 247.80,168.69 248.20,168.54 248.60,168.59 249.00,168.60 249.40,168.64 249.80,168.27 250.20,168.58 250.60,168.41 251.00,168.26 251.40,168.73 251.80,167.83 252.20,168.43 252.60,168.52 253.00,168.26 253.40,167.89 253.80,168.19 254.20,167.48 254.60,168.31 255.00,168.63 255.40,168.27 255.80,168.11 256.20,167.86 256.60,167.72 257.00,167.85 257.40,168.34 257.80,168.55 258.20,168.60 258.60,168.38 259.00,168.30 259.40,167.92 259.80,167.88 260.20,168.19 260.60,167.96 261.00,168.36 261.40,168.57 261.80,168.55 262.20,168.56 262.60,168.58 263.00,167.62 263.40,168.39 263.80,168.45 264.20,167.96 264.60,167.41 265.00,167.85 265.40,167.94 265.80,167.89 266.20,168.46 266.60,167.99 267.00,167.64 267.40,167.77 267.80,167.55 268.20,167.73 268.60,168.29 268.60,175.35 268.20,175.71 267.80,176.30 267.40,175.57 267.00,175.47 266.60,175.03 266.20,175.34 265.80,175.41 265.40,175.05 265.00,175.37 264.60,175.90 264.20,175.42 263.80,175.75 263.40,175.38 263.00,175.27 262.60,175.20 262.20,175.34 261.80,175.81 261.40,175.52 261.00,175.58 260.60,175.54 260.20,175.36 259.80,175.47 259.40,175.50 259.00,175.28 258.60,175.13 258.20,174.91 257.80,174.96 257.40,175.14 257.00,175.40 256.60,175.76 256.20,175.56 255.80,176.56 255.40,175.10 255.00,175.85 254.60,174.73 254.20,174.60 253.80,174.40 253.40,174.60 253.00,174.79 252.60,175.03 252.20,176.12 251.80,175.38 251.40,175.22 251.00,175.33 250.60,175.03 250.20,174.92 249.80,175.05 249.40,174.91 249.00,175.11 248.60,175.44 248.20,175.44 247.80,175.38 247.40,175.07 247.00,174.98 246.60,175.11 246.20,175.02 245.80,175.05 245.40,174.65 245.00,174.85 244.60,174.77 244.20,174.76 243.80,175.25 243.40,175.20 243.00,175.62 242.60,175.62 242.20,175.45 241.80,175.09 241.40,174.82 241.00,174.83 240.60,174.58 240.20,174.63 239.80,174.46 239.40,174.70 239.00,174.81 238.60,174.84 238.20,174.95 237.80,175.07 237.40,175.15 237.00,175.11 236.60,175.32 236.20,175.32 235.80,176.00 235.40,175.19 235.00,174.98 234.60,174.94 234.20,175.30 233.80,175.23 233.40,175.34 233.00,175.15 232.60,175.02 232.20,175.00 231.80,174.83 231.40,175.01 231.00,174.74 230.60,175.16 230.20,175.24 229.80,175.01 229.40,175.25 229.00,174.91 228.60,174.91 228.20,175.07 227.80,175.17 227.40,175.18 227.00,175.40 226.60,175.33 226.20,175.28 225.80,175.10 225.40,175.26 225.00,175.32 224.60,174.93 224.20,175.04 223.80,174.94 223.40,174.90 223.00,175.25 222.60,175.15 222.20,174.95 221.80,174.87 221.40,174.50 221.00,174.57 220.60,174.85 220.20,174.76 219.80,175.49 219.40,174.91 219.00,174.63 218.60,174.66 218.20,174.70 217.80,175.04 217.40,174.81 217.00,175.14 216.60,175.07 216.20,174.90 215.80,175.25 215.40,175.27 215.00,175.64 214.60,175.86 214.20,175.53 213.80,176.26 213.40,175.36 213.00,175.37 212.60,175.05 212.20,174.84 211.80,174.90 211.40,174.76 211.00,174.76 210.60,174.72 210.20,174.51 209.80,174.74 209.40,174.69 209.00,174.53 208.60,174.53 208.20,174.48 207.80,174.86 207.40,174.80 207.00,174.82 206.60,175.06 206.20,174.58 205.80,174.54 205.40,174.82 205.00,174.79 204.60,175.27 204.20,175.71 203.80,175.84 203.40,175.57 203.00,175.05 202.60,174.75 202.20,174.54 201.80,174.77 201.40,174.97 201.00,175.25 200.60,175.35 200.20,175.07 199.80,175.06 199.40,174.82 199.00,174.44 198.60,174.55 198.20,174.57 197.80,174.63 197.40,175.02 197.00,175.83 196.60,175.09 196.20,175.14 195.80,175.03 195.40,175.10 195.00,174.89 194.60,174.69 194.20,174.84 193.80,174.94 193.40,175.40 193.00,175.31 192.60,174.90 192.20,174.51 191.80,174.15 191.40,174.33 191.00,174.74 190.60,175.01 190.20,175.29 189.80,175.60 189.40,175.51 189.00,175.34 188.60,175.47 188.20,175.15 187.80,175.01 187.40,176.25 187.00,174.78 186.60,174.67 186.20,174.72 185.80,174.70 185.40,174.34 185.00,174.45 184.60,174.61 184.20,175.00 183.80,175.39 183.40,175.48 183.00,175.95 182.60,175.15 182.20,175.14 181.80,175.14 181.40,175.40 181.00,175.35 180.60,175.06 180.20,174.89 179.80,175.18 179.40,174.07 179.00,174.25 178.60,174.38 178.20,175.19 177.80,175.84 177.40,174.68 177.00,174.50 176.60,174.49 176.20,174.68 175.80,174.82 175.40,174.87 175.00,174.83 174.60,174.57 174.20,174.88 173.80,175.56 173.40,175.21 173.00,175.18 172.60,174.90 172.20,174.78 171.80,174.40 171.40,174.40 171.00,174.22 170.60,174.49 170.20,174.50 169.80,174.22 169.40,174.55 169.00,174.63 168.60,174.60 168.20,174.63 167.80,174.35 167.40,174.37 167.00,174.65 166.60,174.79 166.20,174.90 165.80,174.74 165.40,174.54 165.00,174.64 164.60,174.43 164.20,174.37 163.80,174.23 163.40,173.96 163.00,174.45 162.60,174.32 162.20,174.78 161.80,175.21 161.40,175.12 161.00,175.33 160.60,174.91 160.20,174.85 159.80,174.56 159.40,175.19 159.00,174.41 158.60,174.33 158.20,175.51 157.80,174.64 157.40,174.43 157.00,174.23 156.60,174.43 156.20,174.57 155.80,174.51 155.40,174.84 155.00,174.59 154.60,174.27 154.20,174.61 153.80,174.23 153.40,174.55 153.00,174.55 152.60,174.18 152.20,174.24 151.80,174.19 151.40,174.54 151.00,175.10 150.60,175.42 150.20,175.57 149.80,175.36 149.40,175.21 149.00,175.30 148.60,175.28 148.20,176.35 147.80,175.49 147.40,175.37 147.00,175.53 146.60,175.76 146.20,175.65 145.80,175.55 145.40,175.15 145.00,174.79 144.60,174.57 144.20,174.35 143.80,174.29 143.40,174.61 143.00,174.76 142.60,175.20 142.20,175.38 141.80,175.22 141.40,175.20 141.00,175.14 140.60,175.20 140.20,175.48 139.80,175.34 139.40,175.56 139.00,175.73 138.60,175.54 138.20,175.75 137.80,175.52 137.40,175.57 137.00,175.46 136.60,175.29 136.20,175.30 135.80,175.42 135.40,175.40 135.00,175.57 134.60,175.62 134.20,175.35 133.80,175.53 133.40,175.57 133.00,175.64 132.60,175.50 132.20,175.47 131.80,175.30 131.40,175.22 131.00,175.25 130.60,175.36 130.20,175.76 129.80,175.71 129.40,176.09 129.00,175.88 128.60,175.52 128.20,175.38 127.80,175.34 127.40,175.48 127.00,175.93 126.60,176.01 126.20,177.38 125.80,175.93 125.40,175.64 125.00,175.75 124.60,175.49 124.20,175.76 123.80,175.50 123.40,175.69 123.00,175.49 122.60,175.20 122.20,175.55 121.80,175.22 121.40,175.55 121.00,175.84 120.60,175.60 120.20,175.55 119.80,175.63 119.40,175.25 119.00,175.24 118.60,175.34 118.20,175.24 117.80,175.52 117.40,175.72 117.00,175.96 116.60,175.91 116.20,175.84 115.80,175.94 115.40,175.83 115.00,175.96 114.60,176.81 114.20,175.79 113.80,175.59 113.40,175.65 113.00,175.59 112.60,175.25 112.20,175.30 111.80,174.89 111.40,174.90 111.00,175.05 110.60,175.20 110.20,175.06 109.80,175.27 109.40,175.05 109.00,175.15 108.60,175.23 108.20,175.22 107.80,175.47 107.40,175.45 107.00,175.90 106.60,176.65 106.20,176.47 105.80,175.61 105.40,175.55 105.00,175.66 104.60,175.50 104.20,175.30 103.80,174.95 103.40,175.06 103.00,174.75 102.60,174.50 102.20,174.34 101.80,174.10 101.40,174.23 101.00,174.35 100.60,174.67 100.20,174.62 99.80,174.94 99.40,174.87 99.00,174.62 98.60,174.72 98.20,174.66 97.80,174.79 97.40,175.05 97.00,175.21 96.60,175.00 96.20,174.78 95.80,174.76 95.40,174.79 95.00,175.33 94.60,174.89 94.20,174.95 93.80,174.48 93.40,174.67 93.00,174.72 92.60,174.59 92.20,174.59 91.80,174.57 91.40,174.40 91.00,174.43 90.60,174.94 90.20,174.75 89.80,175.09 89.40,175.24 89.00,174.80 88.60,174.90 88.20,174.75 87.80,174.67 87.40,174.63 87.00,174.78 86.60,174.47 86.20,174.54 85.80,174.47 85.40,174.53 85.00,174.94 84.60,175.02 84.20,175.05 83.80,174.97 83.40,174.47 83.00,174.12 82.60,174.59 82.20,174.36 81.80,174.67 81.40,174.76 81.00,174.49 80.60,174.67 80.20,174.85 79.80,175.09 79.40,174.95 79.00,175.12 78.60,175.03 78.20,175.01 77.80,175.45 77.40,175.37 77.00,175.54 76.60,175.09 76.20,174.71 75.80,174.65 75.40,174.62 75.00,175.06 74.60,175.38 74.20,175.47 73.80,175.05 73.40,174.68 73.00,174.70 72.60,174.47 72.20,174.73 71.80,174.68 71.40,174.26 71.00,174.41 70.60,174.23 70.20,174.38 69.80,174.53 69.40,174.34 69.00,174.50 68.60,174.91 68.20,175.13 67.80,175.55 67.40,175.81 67.00,176.17 66.60,175.42 66.20,175.11 65.80,174.78 65.40,175.18 65.00,174.98 64.60,175.20 64.20,175.21 63.80,175.15 63.40,175.29 63.00,174.99 62.60,174.97 62.20,174.85 61.80,175.07 61.40,175.14 61.00,175.23 60.60,174.92 60.20,174.51 59.80,174.58 59.40,175.43 59.00,174.81 58.60,175.27 58.20,175.20 57.80,175.04"/>
<polygon fill="#FF0000" points="268.30,167.60 270.50,167.40 272.00,167.80 273.80,168.50 273.80,186.00 272.50,187.00 271.50,189.00 270.50,190.30 269.30,190.60 268.30,190.00"/>
<polygon fill="#FF0000" points="273.30,183.66 273.60,183.93 273.90,183.64 274.20,185.17 274.50,186.04 274.80,187.63 275.10,188.66 275.40,189.09 275.70,189.69 276.00,189.75 276.30,190.48 276.60,189.94 276.90,191.86 277.20,191.82 277.50,192.87 277.80,193.53 278.10,193.21 278.40,193.47 278.70,193.74 279.00,192.88 279.30,193.33 279.60,194.29 279.90,194.57 280.20,193.51 280.50,193.69 280.80,194.98 281.10,193.35 281.40,194.43 281.70,194.30 282.00,194.51 282.30,195.25 282.60,194.57 282.90,195.92 283.20,194.71 283.50,195.64 283.80,195.37 284.10,195.80 284.40,195.67 284.70,195.36 284.70,203.18 284.40,202.08 284.10,203.20 283.80,203.20 283.50,202.87 283.20,202.55 282.90,201.42 282.60,201.85 282.30,202.28 282.00,201.54 281.70,201.12 281.40,201.38 281.10,201.78 280.80,201.23 280.50,200.60 280.20,200.42 279.90,200.21 279.60,200.31 279.30,200.93 279.00,200.14 278.70,200.39 278.40,200.09 278.10,200.04 277.80,199.49 277.50,199.69 277.20,198.74 276.90,197.93 276.60,198.13 276.30,196.99 276.00,196.96 275.70,195.62 275.40,194.72 275.10,194.71 274.80,193.58 274.50,192.68 274.20,191.44 273.90,191.19 273.60,190.26 273.30,190.62"/>
<polygon fill="#FF0000" points="285.30,203.00 285.34,203.70 285.37,204.40 285.41,205.10 285.44,205.80 285.48,206.50 285.51,207.20 285.55,207.90 285.58,208.60 285.62,209.30 285.65,210.00 285.69,210.70 285.72,211.40 285.75,212.10 285.79,212.80 285.82,213.50 285.86,214.20 285.89,214.90 285.93,215.60 285.97,216.30 286.01,217.00 286.05,217.70 286.09,218.40 286.13,219.10 286.17,219.80 286.21,220.50 286.24,221.20 286.28,221.90 286.31,222.60 286.35,223.30 286.34,224.00 286.32,224.70 286.41,225.40 286.46,226.10 286.39,226.80 286.37,227.50 286.36,228.20 286.41,228.90 286.50,229.60 286.40,230.30 286.39,231.00 286.63,231.70 286.45,232.40 286.63,233.10 286.69,233.80 286.33,234.50 286.54,235.20 286.53,235.90 286.67,236.60 286.43,237.30 286.46,238.00 286.90,238.70 286.65,239.40 287.29,240.10 287.46,240.80 287.36,241.50 287.15,242.20 287.08,242.90 287.65,243.60 287.72,244.30 287.39,245.00 287.86,245.70 288.05,246.40 288.32,247.10 288.48,247.80 287.96,248.50 288.70,249.20 288.42,249.90 288.81,250.60 288.24,251.30 288.33,252.00 289.06,252.70 288.54,253.40 289.42,254.10 288.87,254.80 289.21,255.50 289.60,256.20 290.02,256.90 289.71,257.60 290.14,258.30 290.75,259.00 290.57,259.70 291.02,260.40 290.94,261.10 291.26,261.80 291.36,262.50 291.42,263.20 291.89,263.90 291.86,264.60 292.35,265.30 292.51,266.00 292.47,266.70 293.03,267.40 292.93,268.10 293.27,268.80 293.94,269.50 294.16,270.20 294.43,270.90 294.17,271.60 294.84,272.30 294.31,273.00 294.67,273.70 295.19,274.40 295.12,275.10 295.50,275.80 295.35,276.50 295.53,277.20 295.76,277.90 295.77,278.60 296.20,279.30 296.24,280.00 296.11,280.70 296.33,281.40 296.21,282.10 296.32,282.80 296.38,283.50 296.81,284.20 296.19,284.90 296.41,285.60 297.07,286.30 296.81,287.00 297.20,287.70 296.57,288.40 296.63,289.10 297.16,289.80 297.21,290.50 297.12,291.20 296.96,291.90 297.55,292.60 296.95,293.30 297.61,294.00 297.25,294.70 297.31,295.40 297.13,296.10 297.23,296.80 297.65,297.50 297.26,298.20 300.26,298.20 299.73,297.50 299.92,296.80 299.66,296.10 299.54,295.40 300.05,294.70 300.13,294.00 299.59,293.30 299.76,292.60 299.91,291.90 299.72,291.20 299.92,290.50 299.89,289.80 299.31,289.10 299.35,288.40 299.42,287.70 299.20,287.00 299.27,286.30 299.54,285.60 299.20,284.90 299.55,284.20 299.44,283.50 299.67,282.80 299.66,282.10 299.33,281.40 299.09,280.70 299.37,280.00 299.35,279.30 299.60,278.60 299.39,277.90 299.25,277.20 299.13,276.50 298.78,275.80 299.50,275.10 299.06,274.40 299.40,273.70 298.64,273.00 299.37,272.30 298.89,271.60 298.71,270.90 299.09,270.20 298.48,269.50 298.86,268.80 298.99,268.10 298.89,267.40 298.58,266.70 298.77,266.00 298.62,265.30 298.65,264.60 298.54,263.90 298.38,263.20 298.17,262.50 297.77,261.80 298.23,261.10 297.59,260.40 297.47,259.70 297.44,259.00 297.42,258.30 296.78,257.60 297.13,256.90 296.45,256.20 296.73,255.50 296.35,254.80 295.86,254.10 296.09,253.40 295.94,252.70 295.17,252.00 294.79,251.30 294.86,250.60 294.92,249.90 294.13,249.20 294.32,248.50 294.12,247.80 293.94,247.10 293.88,246.40 293.04,245.70 293.38,245.00 292.52,244.30 292.97,243.60 292.57,242.90 292.30,242.20 291.81,241.50 291.39,240.80 291.04,240.10 290.84,239.40 290.97,238.70 290.50,238.00 290.55,237.30 289.91,236.60 289.74,235.90 289.59,235.20 289.81,234.50 289.42,233.80 289.60,233.10 289.43,232.40 289.48,231.70 289.14,231.00 289.01,230.30 289.03,229.60 288.78,228.90 288.74,228.20 288.79,227.50 288.59,226.80 288.59,226.10 288.40,225.40 288.38,224.70 288.27,224.00 288.16,223.30 288.10,222.60 288.04,221.90 287.98,221.20 287.93,220.50 287.87,219.80 287.82,219.10 287.76,218.40 287.71,217.70 287.66,217.00 287.60,216.30 287.55,215.60 287.50,214.90 287.47,214.20 287.45,213.50 287.43,212.80 287.40,212.10 287.38,211.40 287.36,210.70 287.33,210.00 287.31,209.30 287.29,208.60 287.26,207.90 287.24,207.20 287.22,206.50 287.19,205.80 287.17,205.10 287.15,204.40 287.12,203.70 287.10,203.00"/>
<polygon fill="#FF0000" points="297.80,295.44 298.15,294.97 298.50,295.18 298.85,294.99 299.20,295.13 299.55,293.39 299.90,295.06 300.25,294.99 300.60,294.97 300.95,294.96 301.30,295.03 301.65,295.17 302.00,295.08 302.35,295.17 302.70,295.44 303.05,295.28 303.40,295.24 303.75,295.27 304.10,295.46 304.45,295.71 304.80,295.50 305.15,295.37 305.50,294.11 305.85,295.31 306.20,295.51 306.55,295.48 306.90,295.85 307.25,295.53 307.60,295.34 307.95,295.25 308.30,295.36 308.65,295.60 309.00,295.21 309.35,295.33 309.70,295.29 310.05,295.52 310.40,295.34 310.75,295.08 311.10,295.38 311.45,295.66 311.80,295.88 312.15,295.89 312.50,295.70 312.85,295.39 313.20,295.33 313.55,295.51 313.90,295.50 314.25,295.44 314.60,295.37 314.95,294.69 315.30,295.77 315.65,295.66 316.00,295.56 316.35,295.22 316.70,295.28 317.05,294.98 317.40,295.29 317.75,295.38 318.10,295.83 318.45,295.44 318.80,295.44 319.15,295.08 319.50,293.41 319.85,294.92 320.20,295.22 320.55,295.54 320.90,295.45 321.25,295.35 321.60,295.19 321.95,295.39 322.30,295.20 322.65,295.09 323.00,294.98 323.35,294.88 323.70,295.22 324.05,295.13 324.40,295.51 324.75,295.27 325.10,295.25 325.45,294.97 325.80,295.29 326.15,295.30 326.50,295.50 326.85,295.46 327.20,295.38 327.55,295.35 327.90,295.35 328.25,295.42 328.60,295.26 328.95,295.28 329.30,295.75 329.65,295.59 330.00,295.11 330.35,294.60 330.70,294.66 331.05,295.18 331.40,295.17 331.75,295.46 332.10,295.27 332.45,295.69 332.80,295.71 333.15,295.91 333.50,294.03 333.85,295.60 334.20,295.05 334.55,295.56 334.90,295.46 335.25,295.98 335.60,295.47 335.95,295.52 336.30,295.16 336.65,295.26 337.00,294.93 337.35,295.24 337.70,295.21 338.05,295.45 338.40,295.06 338.75,295.50 339.10,295.63 339.45,296.07 339.80,296.00 340.15,295.50 340.50,295.40 340.85,295.51 341.20,295.71 341.55,295.57 341.90,295.45 342.25,295.36 342.60,295.42 342.95,295.55 343.30,295.75 343.65,295.77 344.00,295.62 344.35,295.73 344.70,295.68 345.05,293.56 345.40,295.31 345.75,295.07 346.10,295.53 346.45,295.28 346.80,295.73 347.15,295.42 347.50,295.60 347.85,295.27 348.20,293.48 348.55,295.16 348.90,295.09 349.25,295.43 349.60,295.33 349.95,295.76 350.30,295.64 350.65,294.07 351.00,295.32 351.35,295.29 351.70,295.79 352.05,295.47 352.40,295.61 352.75,295.21 353.10,295.27 353.45,294.85 353.80,295.16 354.15,295.12 354.50,295.32 354.85,294.54 355.20,295.50 355.55,293.51 355.90,294.87 356.25,294.97 356.60,295.17 356.95,295.46 357.30,295.21 357.65,295.14 358.00,294.24 358.35,295.23 358.70,295.11 359.05,293.25 359.40,294.82 359.75,295.16 360.10,295.46 360.45,295.52 360.80,295.30 361.15,295.00 361.50,293.74 361.85,295.24 362.20,295.30 362.55,295.74 362.90,295.37 363.25,295.55 363.60,295.54 363.95,295.54 364.30,295.38 364.65,295.06 365.00,294.09 365.35,294.91 365.70,294.73 366.05,294.73 366.40,294.65 366.75,295.12 367.10,295.55 367.45,295.56 367.80,295.41 368.15,294.97 368.50,294.20 368.85,294.81 369.20,295.04 369.55,295.15 369.90,293.67 370.25,295.09 370.60,295.44 370.95,295.57 371.30,295.67 371.65,295.36 372.00,295.36 372.35,295.48 372.70,295.79 373.05,295.46 373.40,295.12 373.75,295.02 374.10,295.37 374.45,295.83 374.80,295.58 375.15,295.37 375.50,295.22 375.85,295.16 376.20,295.06 376.55,295.25 376.90,295.67 377.25,295.75 377.60,295.60 377.95,295.13 378.30,295.41 378.65,295.41 379.00,295.84 379.35,295.46 379.70,295.13 380.05,294.84 380.40,294.77 380.75,294.87 381.10,295.11 381.45,295.47 381.80,295.38 382.15,295.32 382.50,295.35 382.85,295.43 383.20,295.13 383.55,294.77 383.90,294.80 384.25,295.22 384.60,295.64 384.95,295.55 385.30,294.03 385.65,295.11 386.00,295.52 386.35,295.48 386.70,295.49 387.05,295.15 387.40,294.94 387.75,294.93 388.10,294.96 388.45,294.85 388.80,294.92 389.15,295.11 389.50,295.29 389.85,295.41 390.20,295.38 390.55,295.34 390.90,295.19 391.25,295.36 391.60,295.24 391.95,295.58 392.30,295.20 392.65,295.58 393.00,295.29 393.35,295.37 393.70,295.29 394.05,295.21 394.40,295.03 394.75,294.95 395.10,295.29 395.45,295.49 395.80,294.35 396.15,295.12 396.50,295.43 396.85,295.73 397.20,295.80 397.55,295.49 397.90,295.64 398.25,295.24 398.60,295.07 398.95,295.13 399.30,295.14 399.65,295.59 400.00,294.61 400.35,295.68 400.70,295.70 401.05,295.32 401.40,295.54 401.75,295.40 402.10,295.59 402.45,295.74 402.80,295.81 403.15,295.79 403.50,295.63 403.85,295.61 404.20,295.83 404.55,296.01 404.90,295.69 405.25,295.18 405.60,294.70 405.95,295.00 406.30,295.26 406.65,295.27 407.00,295.30 407.35,295.05 407.70,295.56 408.05,295.38 408.40,295.70 408.75,295.32 409.10,294.15 409.45,294.93 409.80,294.83 410.15,294.88 410.50,294.72 410.85,295.03 411.20,295.52 411.55,295.54 411.90,295.65 412.25,295.40 412.60,295.46 412.95,295.52 413.30,295.46 413.65,295.30 414.00,294.96 414.35,294.75 414.70,294.83 415.05,295.01 415.40,295.30 415.75,295.40 416.10,295.35 416.45,295.09 416.80,294.90 417.15,295.01 417.50,295.50 417.85,295.64 418.20,295.39 418.55,294.93 418.90,295.10 419.25,295.00 419.60,295.27 419.95,295.05 420.30,295.12 420.65,294.89 421.00,294.99 421.35,295.08 421.70,295.04 422.05,295.13 422.40,295.24 422.75,295.62 423.10,295.81 423.45,295.60 423.80,295.32 424.15,295.29 424.50,295.55 424.85,295.56 425.20,295.46 425.55,295.38 425.90,295.49 426.25,295.43 426.60,295.57 426.95,294.98 427.30,295.44 427.65,295.12 428.00,294.80 428.35,294.84 428.70,294.76 429.05,294.75 429.40,294.62 429.75,294.85 430.10,294.90 430.45,295.06 430.80,295.11 431.15,295.40 431.50,295.52 431.85,295.37 432.20,295.11 432.55,295.20 432.90,294.81 433.25,295.69 433.60,295.64 433.95,295.53 434.30,295.26 434.65,294.98 435.00,295.18 435.35,294.48 435.70,295.82 436.05,295.31 436.40,294.94 436.75,294.77 437.10,295.23 437.45,295.76 437.80,295.81 438.15,293.79 438.50,295.53 438.85,295.43 439.20,295.75 439.55,295.35 439.90,295.70 440.25,295.29 440.60,295.31 440.95,295.20 441.30,295.51 441.65,295.65 442.00,295.75 442.35,295.63 442.70,294.52 443.05,295.04 443.40,295.05 443.75,295.38 444.10,295.80 444.45,295.91 444.80,295.86 445.15,295.38 445.50,294.94 445.85,294.79 446.20,294.84 446.55,294.86 446.90,295.03 447.25,295.42 447.60,295.49 447.95,295.46 448.30,294.16 448.65,295.62 449.00,295.58 449.35,295.60 449.70,295.83 450.05,295.67 450.40,295.46 450.75,295.23 451.10,295.32 451.45,295.47 451.80,295.21 452.15,293.64 452.50,295.51 452.85,295.48 453.20,295.42 453.55,295.31 453.90,295.64 454.25,295.37 454.60,295.13 454.95,294.85 455.30,295.15 455.65,295.11 456.00,295.60 456.35,295.17 456.70,295.17 457.05,294.69 457.40,295.02 457.75,295.33 458.10,295.67 458.45,295.72 458.80,295.44 459.15,295.33 459.50,294.99 459.85,295.23 460.20,295.51 460.55,295.99 460.90,295.69 461.25,295.36 461.60,294.89 461.95,295.26 462.30,295.38 462.65,295.45 463.00,295.27 463.35,295.08 463.70,295.03 464.05,295.21 464.40,295.55 464.75,295.54 465.10,295.41 465.45,295.03 465.80,294.94 466.15,295.12 466.50,295.41 466.85,295.41 467.20,295.27 467.55,293.42 467.90,295.12 468.25,294.97 468.60,295.45 468.95,295.77 469.30,295.71 469.65,295.32 470.00,295.19 470.35,295.20 470.70,295.12 471.05,295.22 471.40,295.36 471.75,295.36 472.10,295.37 472.45,295.45 472.80,295.54 473.15,295.09 473.50,293.28 473.85,295.22 474.20,294.49 474.55,295.85 474.90,295.83 475.25,295.85 475.60,295.75 475.95,295.35 476.30,295.28 476.65,295.30 477.00,295.42 477.35,295.53 477.70,295.52 478.05,295.41 478.40,294.86 478.75,295.69 479.10,294.45 479.45,296.00 479.80,295.73 480.15,295.18 480.50,294.82 480.85,295.00 481.20,295.16 481.20,300.10 480.85,299.67 480.50,299.63 480.15,299.63 479.80,299.70 479.45,300.12 479.10,299.75 478.75,300.00 478.40,299.87 478.05,299.83 477.70,299.43 477.35,299.57 477.00,300.09 476.65,300.23 476.30,300.02 475.95,299.63 475.60,299.48 475.25,299.28 474.90,299.17 474.55,299.29 474.20,299.81 473.85,300.30 473.50,300.60 473.15,300.50 472.80,300.04 472.45,299.96 472.10,299.76 471.75,299.70 471.40,299.70 471.05,299.58 470.70,299.94 470.35,299.93 470.00,299.83 469.65,299.88 469.30,300.03 468.95,300.18 468.60,300.27 468.25,301.00 467.90,300.05 467.55,300.11 467.20,300.39 466.85,300.07 466.50,299.80 466.15,299.97 465.80,300.24 465.45,300.26 465.10,300.20 464.75,299.96 464.40,299.82 464.05,299.47 463.70,299.63 463.35,299.45 463.00,299.66 462.65,299.77 462.30,300.07 461.95,300.06 461.60,299.77 461.25,299.53 460.90,299.83 460.55,300.18 460.20,300.20 459.85,299.63 459.50,299.23 459.15,299.29 458.80,299.77 458.45,299.97 458.10,300.26 457.75,301.57 457.40,300.02 457.05,299.77 456.70,299.94 456.35,299.72 456.00,300.89 455.65,299.60 455.30,299.59 454.95,299.65 454.60,299.84 454.25,300.11 453.90,300.06 453.55,300.15 453.20,299.69 452.85,299.70 452.50,299.60 452.15,300.66 451.80,299.89 451.45,299.85 451.10,299.89 450.75,299.88 450.40,300.29 450.05,300.40 449.70,300.52 449.35,300.14 449.00,300.25 448.65,299.78 448.30,299.95 447.95,299.95 447.60,301.36 447.25,300.08 446.90,300.04 446.55,299.83 446.20,299.94 445.85,299.70 445.50,299.54 445.15,299.26 444.80,299.14 444.45,299.46 444.10,299.79 443.75,300.18 443.40,300.30 443.05,300.17 442.70,299.88 442.35,299.68 442.00,299.58 441.65,299.48 441.30,299.65 440.95,299.60 440.60,299.64 440.25,299.67 439.90,300.10 439.55,300.53 439.20,300.42 438.85,300.20 438.50,300.11 438.15,300.10 437.80,300.39 437.45,300.51 437.10,300.51 436.75,300.48 436.40,300.11 436.05,299.88 435.70,299.47 435.35,299.69 435.00,299.80 434.65,299.67 434.30,299.82 433.95,299.95 433.60,300.25 433.25,299.69 432.90,299.55 432.55,299.69 432.20,299.84 431.85,300.05 431.50,300.17 431.15,301.65 430.80,300.27 430.45,300.00 430.10,300.02 429.75,299.88 429.40,300.15 429.05,299.93 428.70,299.70 428.35,299.46 428.00,299.93 427.65,300.42 427.30,300.17 426.95,299.81 426.60,299.50 426.25,299.89 425.90,299.80 425.55,299.78 425.20,299.82 424.85,300.00 424.50,300.29 424.15,299.99 423.80,299.92 423.45,299.84 423.10,299.84 422.75,299.83 422.40,299.60 422.05,299.60 421.70,299.90 421.35,299.89 421.00,299.70 420.65,299.69 420.30,299.67 419.95,299.82 419.60,301.08 419.25,299.77 418.90,300.05 418.55,300.57 418.20,300.29 417.85,301.13 417.50,299.88 417.15,299.76 416.80,300.06 416.45,299.75 416.10,299.73 415.75,299.45 415.40,299.48 415.05,299.55 414.70,299.87 414.35,299.99 414.00,299.85 413.65,299.96 413.30,300.07 412.95,300.37 412.60,299.94 412.25,299.96 411.90,299.94 411.55,300.36 411.20,301.05 410.85,299.95 410.50,299.96 410.15,300.07 409.80,300.16 409.45,299.66 409.10,299.50 408.75,299.31 408.40,299.64 408.05,300.04 407.70,300.47 407.35,300.31 407.00,300.21 406.65,299.85 406.30,300.04 405.95,299.73 405.60,300.02 405.25,300.15 404.90,300.43 404.55,300.25 404.20,300.06 403.85,299.87 403.50,299.82 403.15,299.85 402.80,299.95 402.45,299.70 402.10,299.50 401.75,299.80 401.40,300.22 401.05,300.35 400.70,300.13 400.35,299.78 400.00,299.66 399.65,299.36 399.30,299.74 398.95,299.66 398.60,300.06 398.25,301.45 397.90,300.08 397.55,299.81 397.20,299.68 396.85,299.64 396.50,299.84 396.15,299.50 395.80,299.99 395.45,300.12 395.10,300.18 394.75,299.88 394.40,299.55 394.05,299.91 393.70,299.98 393.35,300.32 393.00,299.94 392.65,300.24 392.30,299.93 391.95,300.19 391.60,300.04 391.25,300.11 390.90,299.94 390.55,299.66 390.20,299.58 389.85,299.49 389.50,299.51 389.15,299.91 388.80,300.06 388.45,300.15 388.10,300.66 387.75,299.79 387.40,301.00 387.05,299.75 386.70,299.73 386.35,300.06 386.00,299.76 385.65,299.72 385.30,299.89 384.95,299.75 384.60,300.10 384.25,299.85 383.90,300.11 383.55,300.02 383.20,300.22 382.85,300.19 382.50,300.32 382.15,300.14 381.80,300.25 381.45,300.00 381.10,299.91 380.75,299.81 380.40,299.86 380.05,300.17 379.70,300.29 379.35,300.56 379.00,300.40 378.65,300.88 378.30,299.85 377.95,299.94 377.60,299.67 377.25,299.71 376.90,299.69 376.55,300.07 376.20,300.13 375.85,300.15 375.50,299.85 375.15,299.84 374.80,299.48 374.45,299.65 374.10,299.42 373.75,299.63 373.40,299.37 373.05,299.74 372.70,299.67 372.35,300.21 372.00,300.04 371.65,299.82 371.30,301.16 370.95,299.86 370.60,300.25 370.25,299.96 369.90,299.81 369.55,299.97 369.20,300.19 368.85,300.17 368.50,300.18 368.15,299.78 367.80,300.16 367.45,299.74 367.10,300.11 366.75,300.08 366.40,300.14 366.05,299.79 365.70,299.47 365.35,299.43 365.00,299.70 364.65,299.74 364.30,300.07 363.95,299.80 363.60,299.66 363.25,299.21 362.90,299.10 362.55,299.46 362.20,299.49 361.85,299.95 361.50,299.93 361.15,300.43 360.80,299.98 360.45,299.68 360.10,299.33 359.75,299.32 359.40,299.39 359.05,299.68 358.70,299.76 358.35,299.63 358.00,299.60 357.65,299.75 357.30,299.79 356.95,299.67 356.60,299.78 356.25,300.09 355.90,300.11 355.55,300.20 355.20,300.37 354.85,300.30 354.50,300.24 354.15,300.28 353.80,300.11 353.45,300.23 353.10,300.23 352.75,300.47 352.40,300.41 352.05,300.26 351.70,300.34 351.35,299.89 351.00,299.68 350.65,299.53 350.30,300.02 349.95,300.30 349.60,300.51 349.25,300.53 348.90,300.23 348.55,299.79 348.20,299.51 347.85,299.56 347.50,300.04 347.15,300.27 346.80,300.52 346.45,300.16 346.10,299.81 345.75,299.60 345.40,299.93 345.05,299.83 344.70,299.71 344.35,299.40 344.00,299.89 343.65,299.80 343.30,301.21 342.95,300.00 342.60,300.34 342.25,300.24 341.90,299.76 341.55,299.46 341.20,299.42 340.85,299.62 340.50,299.97 340.15,300.23 339.80,300.29 339.45,300.41 339.10,300.24 338.75,300.01 338.40,299.50 338.05,299.27 337.70,299.32 337.35,299.44 337.00,299.66 336.65,299.98 336.30,300.20 335.95,300.30 335.60,300.15 335.25,300.23 334.90,300.30 334.55,300.00 334.20,300.09 333.85,299.70 333.50,300.13 333.15,300.02 332.80,300.07 332.45,300.04 332.10,300.11 331.75,300.27 331.40,300.31 331.05,299.86 330.70,299.67 330.35,299.34 330.00,299.34 329.65,299.34 329.30,299.29 328.95,299.53 328.60,299.46 328.25,299.84 327.90,299.69 327.55,300.07 327.20,299.90 326.85,300.27 326.50,300.24 326.15,300.08 325.80,299.98 325.45,299.58 325.10,300.00 324.75,299.71 324.40,300.23 324.05,299.74 323.70,300.04 323.35,299.93 323.00,300.42 322.65,300.04 322.30,299.99 321.95,300.00 321.60,300.18 321.25,299.80 320.90,299.47 320.55,299.60 320.20,299.88 319.85,300.08 319.50,300.08 319.15,300.37 318.80,300.01 318.45,300.06 318.10,299.82 317.75,300.21 317.40,299.85 317.05,299.95 316.70,300.01 316.35,300.06 316.00,300.00 315.65,299.50 315.30,299.96 314.95,300.09 314.60,300.08 314.25,299.94 313.90,299.80 313.55,300.36 313.20,300.23 312.85,300.39 312.50,300.16 312.15,300.07 311.80,299.93 311.45,299.64 311.10,299.63 310.75,299.75 310.40,300.42 310.05,300.11 309.70,299.63 309.35,299.84 309.00,299.45 308.65,299.66 308.30,299.79 307.95,299.88 307.60,300.08 307.25,299.81 306.90,300.22 306.55,299.87 306.20,300.22 305.85,299.73 305.50,299.91 305.15,299.77 304.80,300.01 304.45,300.01 304.10,299.66 303.75,299.63 303.40,299.59 303.05,300.09 302.70,299.91 302.35,300.24 302.00,300.19 301.65,300.54 301.30,300.39 300.95,300.05 300.60,299.59 300.25,299.51 299.90,299.90 299.55,300.47 299.20,300.40 298.85,300.19 298.50,300.16 298.15,300.48 297.80,300.27"/>
<polyline fill="none" stroke="#FF0000" stroke-width="1.9" stroke-linejoin="round" stroke-linecap="round" points="284.50,198.50 285.40,201.00 285.90,208.00 286.50,220.00 287.10,228.00"/>
<g stroke="#000" stroke-width="1.9" stroke-dasharray="13.1 7.55">
<path d="M270.0 12.6 V301 M300.0 12.6 V301"/>
</g>
<g font-family="'Liberation Serif', 'Times New Roman', serif" font-size="20.5" fill="#000" style="font-kerning:none">
<text x="30.95" y="21.94">15</text>
<text x="31.14" y="115.42">10</text>
<text x="37.38" y="209.31">5</text>
<text x="37.58" y="302.62">0</text>
<text x="53.77" y="320.62">0</text>
<text x="138.50" y="320.67">1</text>
<text x="223.91" y="320.69">2</text>
<text x="308.71" y="320.59">3</text>
<text x="393.77" y="320.65">4</text>
<text x="478.63" y="320.51">5</text>
<text x="490.41" y="20.92">180</text>
<text x="490.11" y="114.22">120</text>
<text x="496.95" y="208.82">60</text>
<text x="496.82" y="302.62">0</text>
<text x="160.68" y="43.76">I</text>
<text x="279.36" y="43.96">II</text>
<text x="380.35" y="43.96">III</text>
<text x="83.11" y="136.80">Bus Voltage</text>
<text x="76.51" y="203.60">Loop Current</text>
<text x="233.34" y="345.3" font-size="20">Time(s)</text>
<text transform="translate(22.6 190.64) rotate(-90)">Current(A)</text>
<text transform="translate(529.3 109.97) rotate(90)">Voltage(V)</text>
</g>
</svg>
</body></html>
